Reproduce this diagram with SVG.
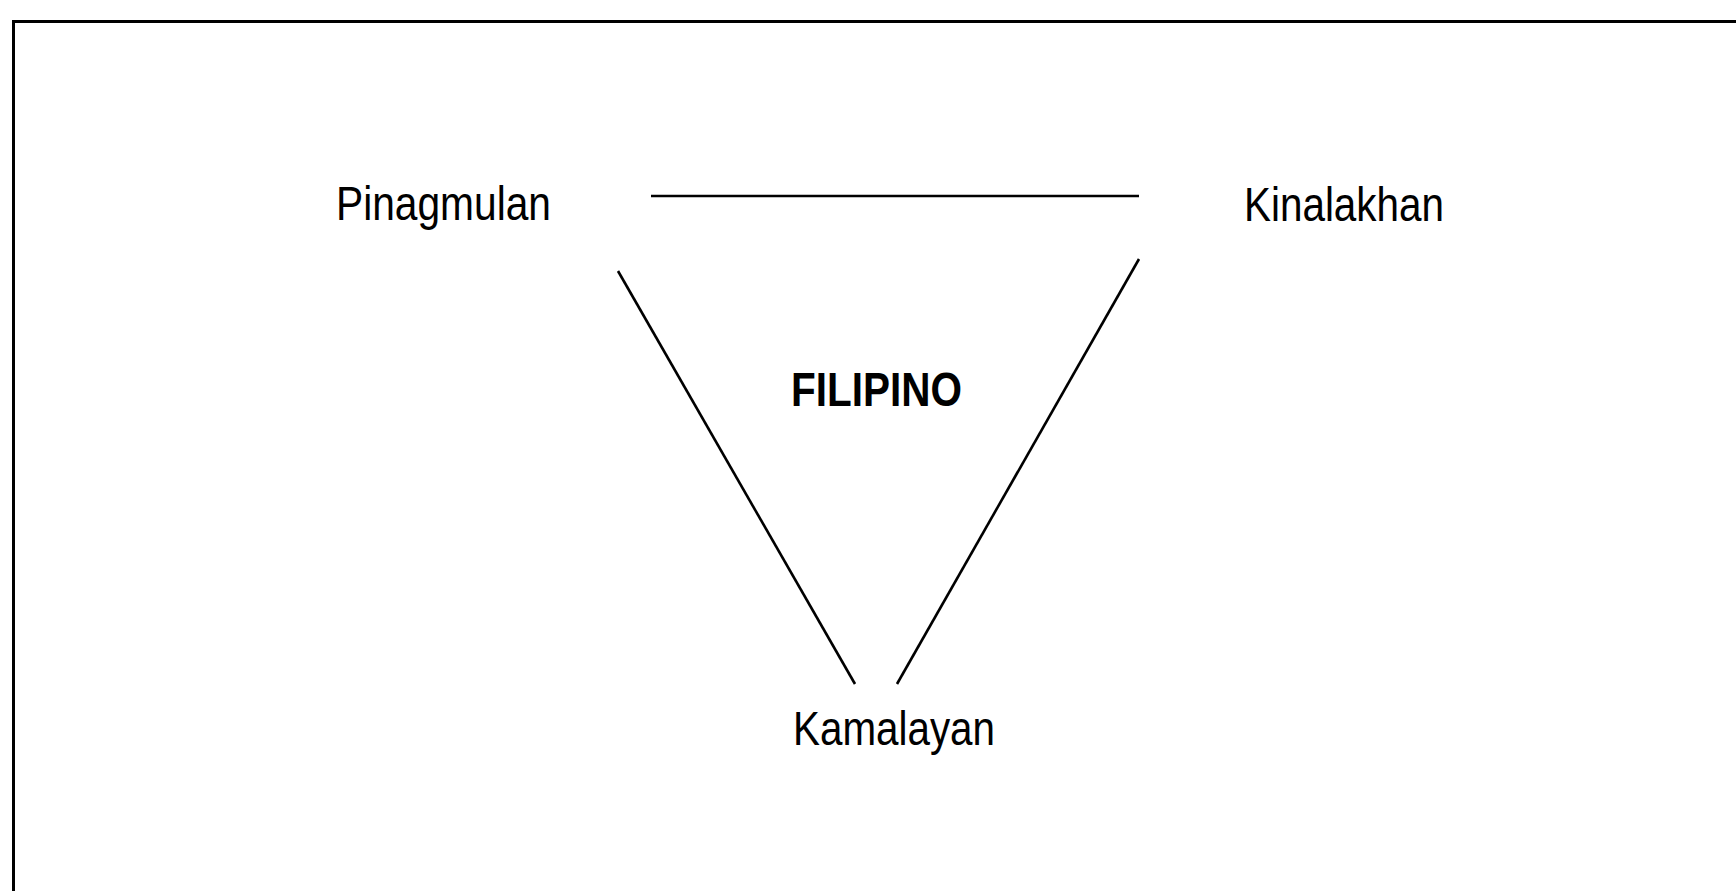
<svg xmlns="http://www.w3.org/2000/svg" width="1736" height="891" viewBox="0 0 1736 891">
<style>
.lbl{font-family:"Liberation Sans",Arial,sans-serif;font-size:49px;fill:#000}
.b{font-weight:bold}
.ln{stroke:#000;stroke-width:2.6;fill:none}
</style>
<rect x="0" y="0" width="1736" height="891" fill="#fff"/>
<rect x="13.5" y="21.5" width="1760" height="900" fill="none" stroke="#000" stroke-width="3"/>
<g id="connectors">
<line class="ln" x1="651" y1="196" x2="1139" y2="196"/>
<line class="ln" x1="618" y1="271" x2="855" y2="684"/>
<line class="ln" x1="1139" y1="259" x2="897" y2="684"/>
</g>
<g id="pinagmulan"><text class="lbl" x="336" y="219.5" textLength="215" lengthAdjust="spacingAndGlyphs">Pinagmulan</text></g>
<g id="kinalakhan"><text class="lbl" x="1244" y="221" textLength="200" lengthAdjust="spacingAndGlyphs">Kinalakhan</text></g>
<g id="filipino"><text class="lbl b" x="791" y="406" textLength="171" lengthAdjust="spacingAndGlyphs">FILIPINO</text></g>
<g id="kamalayan"><text class="lbl" x="793" y="745" textLength="202" lengthAdjust="spacingAndGlyphs">Kamalayan</text></g>
</svg>
